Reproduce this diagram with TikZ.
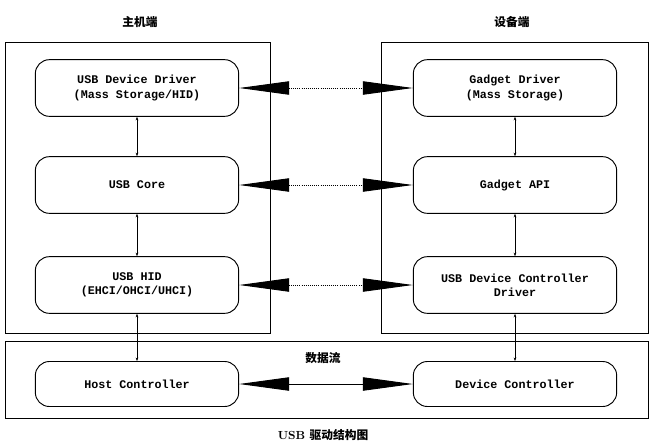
\documentclass[tikz,border=0pt]{standalone}
\usepackage{fontspec}
\setmonofont{Liberation Mono}
\newfontfamily\cjk{Noto Sans CJK SC}
\usetikzlibrary{arrows.meta, positioning}
\begin{document}
\begin{tikzpicture}[x=0.03cm, y=-0.03cm,
    box/.style={draw, thick, rounded corners=12pt, minimum height=1.7cm, minimum width=6.1cm, align=center, font=\ttfamily\bfseries, fill=white},
    lowbox/.style={box, minimum height=1.35cm},
    frame/.style={draw, thick},
    big/.style={{Triangle[length=1.5cm, width=0.4cm]}-{Triangle[length=1.5cm, width=0.4cm]}},
    small/.style={{Stealth[length=3pt]}-{Stealth[length=3pt]}},
    ttl/.style={font=\cjk\bfseries},
  ]
  \useasboundingbox (0,0) rectangle (652,446);
  % Frames
  \draw[frame] (5,42) rectangle (270,333);
  \draw[frame] (381,42) rectangle (648,333);
  \draw[frame] (5,341) rectangle (648,418);
  \node[ttl] (host) at (140,22) {主机端};
  \node[ttl] (dev) at (512,22) {设备端};
  \node[ttl] (flow) at (323,358) {数据流};
  \node[font=\bfseries] (cap) at (323,435) {USB {\cjk 驱动结构图}};

  % Nodes
  \node[box] (udd) at (137,88) {USB Device Driver\\(Mass Storage/HID)};
  \node[box] (core) at (137,185) {USB Core};
  \node[box] (hid) at (137,285) {USB HID\\(EHCI/OHCI/UHCI)};
  \node[lowbox] (hc) at (137,384) {Host Controller};
  \node[box] (gd) at (515,88) {Gadget Driver\\(Mass Storage)};
  \node[box] (api) at (515,185) {Gadget API};
  \node[box] (udc) at (515,285) {USB Device Controller\\Driver};
  \node[lowbox] (dc) at (515,384) {Device Controller};

  % Paths
  \foreach \a/\b in {udd/gd, core/api, hid/udc}
    \draw[big, densely dotted, thick] (\a) -- (\b);
  \draw[big, thick] (hc) -- (dc);
  \foreach \a/\b in {udd/core, core/hid, hid/hc, gd/api, api/udc, udc/dc}
    \draw[small] (\a) -- (\b);
\end{tikzpicture}
\end{document}
